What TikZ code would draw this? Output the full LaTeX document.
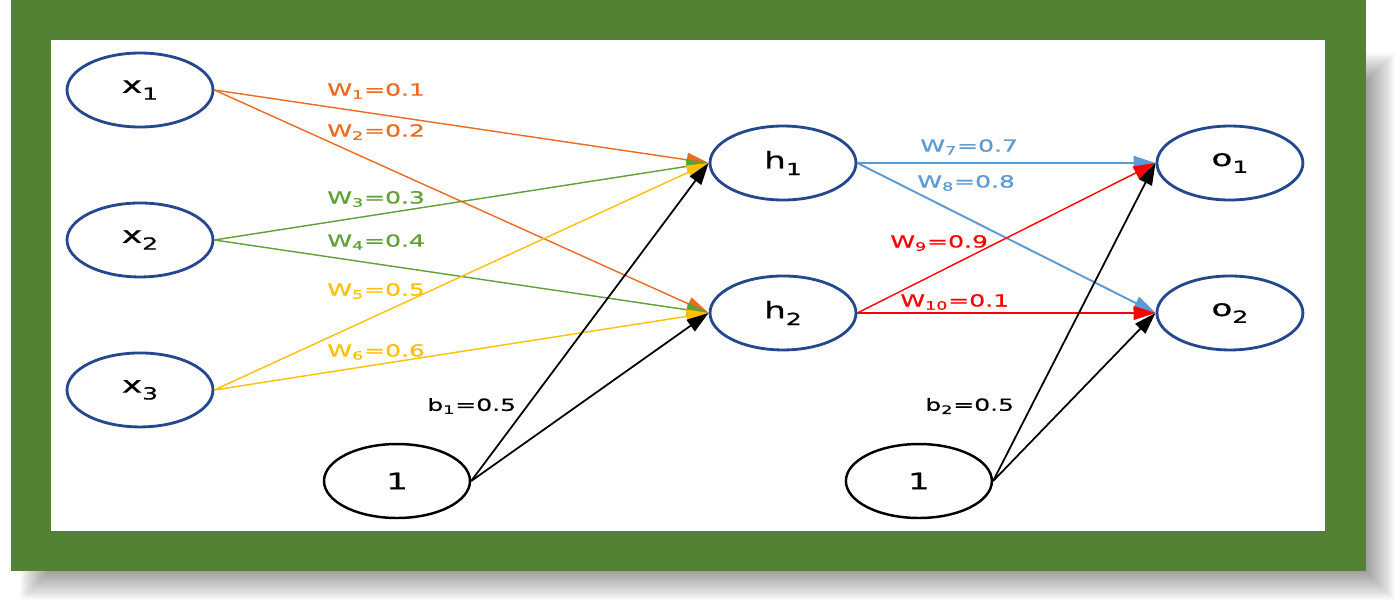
\documentclass[tikz,border=0pt]{standalone}
\usepackage{fontspec}
\setmainfont[FakeStretch=1.5, FakeBold=0.7]{DejaVu Sans}
\usetikzlibrary{positioning,shapes.geometric,arrows.meta}
\definecolor{framegreen}{HTML}{548235}
\definecolor{nodeblue}{HTML}{23488E}
\definecolor{worange}{HTML}{EE6A1E}
\definecolor{wgreen}{HTML}{5FA136}
\definecolor{wyellow}{HTML}{FFC000}
\definecolor{wblue}{HTML}{5B9BD5}
\definecolor{wred}{HTML}{FF0000}
\newcommand{\nsub}[1]{\raisebox{-0.3em}{\fontsize{9.5}{9.5}\selectfont #1}}
\tikzset{
neuron/.style={ellipse, draw=nodeblue, line width=1.6pt, minimum width=2.92cm, minimum height=1.48cm, inner sep=0pt, font=\fontsize{13}{15}\selectfont},
biasnode/.style={neuron, draw=black, line width=1.4pt},
wlabel/.style={anchor=west, inner sep=0pt, font=\fontsize{9.5}{11}\selectfont},
wire/.style={line width=0.8pt, -{Triangle[length=0.44cm,width=0.28cm]}},
biaswire/.style={wire, black, line width=1pt}
}

\begin{document}
\begin{tikzpicture}[x=0.02cm, y=-0.02cm, node distance=3cm, on grid]
\useasboundingbox (0,0) rectangle (1400,606);
% frame with shadow
\foreach \e in {-15,...,15}
  \fill[black, opacity=0.015] (35-\e,68-\e) rectangle (1380+\e,585+\e);
\fill[framegreen] (11,0) rectangle (1366,571);
\fill[white] (51,40) rectangle (1325,531);

\node[neuron](x1) at (140,90) {x\nsub{1}};
\node[neuron, below=of x1](x2) {x\nsub{2}};
\node[neuron, below=of x2](x3) {x\nsub{3}};
\node[neuron](h1) at (783,163) {h\nsub{1}};
\node[neuron, below=of h1](h2) {h\nsub{2}};
\node[neuron, right=8.94cm of h1](o1) {o\nsub{1}};
\node[neuron, right=8.94cm of h2](o2) {o\nsub{2}};
\node[biasnode](b1) at (397,481) {1};
\node[biasnode, right=10.44cm of b1](b2) {1};

\draw[wire, worange](x1.east)--(h1.west);
\draw[wire, worange](x1.east)--(h2.west);
\draw[wire, wgreen](x2.east)--(h1.west);
\draw[wire, wgreen](x2.east)--(h2.west);
\draw[wire, wyellow](x3.east)--(h1.west);
\draw[wire, wyellow](x3.east)--(h2.west);
\draw[biaswire](b1.east)--(h1.west);
\draw[biaswire](b1.east)--(h2.west);
\draw[wire, wblue, line width=1.1pt](h1.east)--(o1.west);
\draw[wire, wblue, line width=1.1pt](h1.east)--(o2.west);
\draw[wire, wred](h2.east)--(o1.west);
\draw[wire, wred](h2.east)--(o2.west);
\draw[biaswire](b2.east)--(o1.west);
\draw[biaswire](b2.east)--(o2.west);

\node[wlabel, worange](w1) at (327,91) {W\textsubscript{1}=0.1};
\node[wlabel, worange](w2) at (327,132) {W\textsubscript{2}=0.2};
\node[wlabel, wgreen](w3) at (327,199) {W\textsubscript{3}=0.3};
\node[wlabel, wgreen](w4) at (327,242) {W\textsubscript{4}=0.4};
\node[wlabel, wyellow](w5) at (327,291) {W\textsubscript{5}=0.5};
\node[wlabel, wyellow](w6) at (327,352) {W\textsubscript{6}=0.6};
\node[wlabel, wblue](w7) at (920,147) {W\textsubscript{7}=0.7};
\node[wlabel, wblue](w8) at (917,183) {W\textsubscript{8}=0.8};
\node[wlabel, wred](w9) at (890,243) {W\textsubscript{9}=0.9};
\node[wlabel, wred](w10) at (900,302) {W\textsubscript{10}=0.1};
\node[wlabel](lb1) at (427,406) {b\textsubscript{1}=0.5};
\node[wlabel](lb2) at (925,406) {b\textsubscript{2}=0.5};
\end{tikzpicture}
\end{document}
